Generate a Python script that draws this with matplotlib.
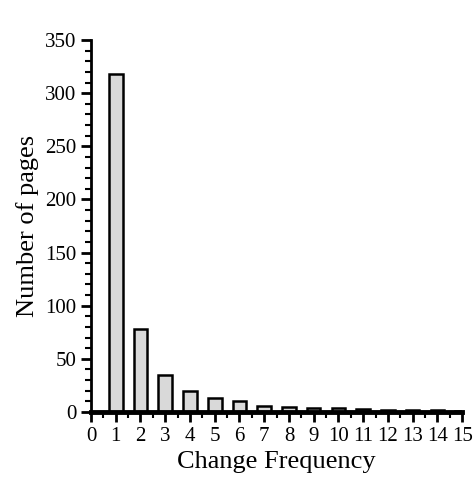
import matplotlib
matplotlib.use("Agg")
import matplotlib.pyplot as plt
from matplotlib.ticker import MultipleLocator

freq = list(range(1, 16))
pages = [318, 78, 35, 20, 13, 10, 6, 5, 4, 4, 3, 2, 2, 2, 1]

plt.rcParams['font.family'] = ['Liberation Serif']
fig = plt.figure(figsize=(4.74, 4.83), dpi=100)
ax = fig.add_axes([0.192, 0.147, 0.783, 0.77])
ax.bar(freq, pages, width=0.55, color='#d9d9d9', edgecolor='black', linewidth=1.8)
ax.set_xlim(0, 15)
ax.set_ylim(0, 350)
ax.set_xticks(range(0, 16))
ax.set_yticks(range(0, 351, 50))
ax.yaxis.set_minor_locator(MultipleLocator(10))
ax.xaxis.set_minor_locator(MultipleLocator(0.5))
for s in ['top', 'right']:
    ax.spines[s].set_visible(False)
for s in ['left', 'bottom']:
    ax.spines[s].set_linewidth(2)
ax.spines['bottom'].set_linewidth(3.5)
ax.tick_params(which='major', direction='out', length=7, width=2, labelsize=15)
ax.tick_params(which='minor', direction='out', length=4, width=1.5)
ax.set_xlabel('Change Frequency', fontsize=19)
ax.set_ylabel('Number of pages', fontsize=19)
fig.savefig('out.png', dpi=100)
